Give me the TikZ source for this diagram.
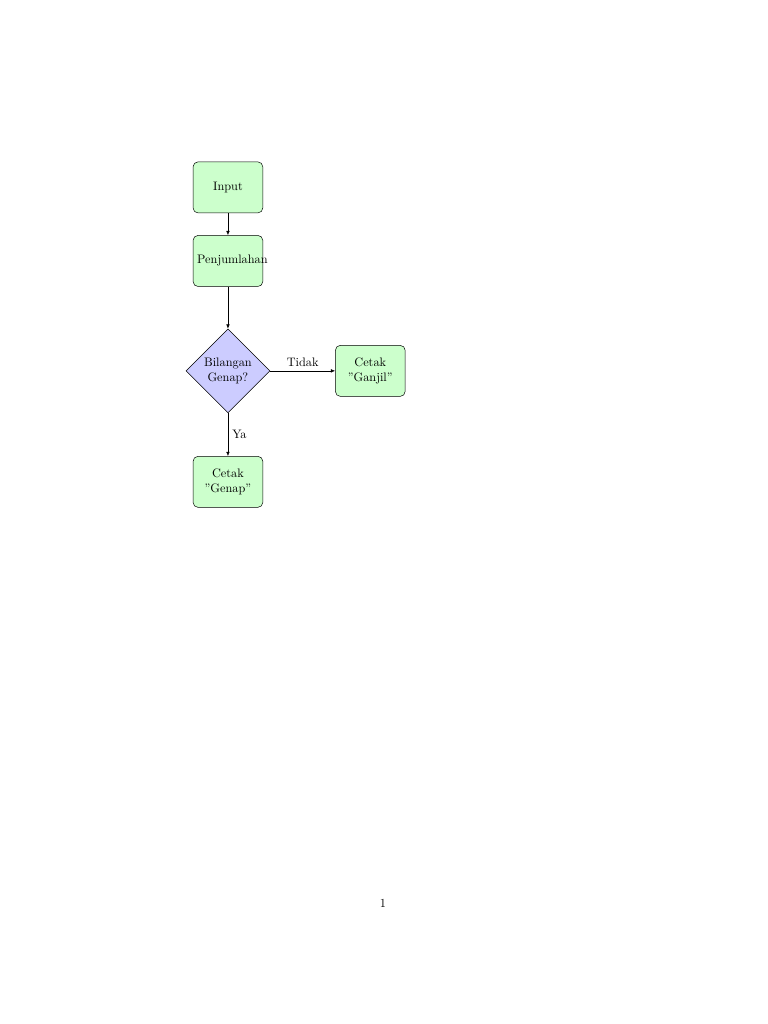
\documentclass[tikz,border=0pt]{standalone}
\usetikzlibrary{arrows.meta, shapes.geometric, positioning}

\begin{document}
\begin{tikzpicture}[
	node distance=1.2cm,
	process/.style={
		rectangle, draw, rounded corners, fill=green!20,
		text width=1.76cm, minimum height=1.46cm, align=center
	},
	decision/.style={
		diamond, draw, fill=blue!20, aspect=1, inner sep=0pt,
		minimum width=2.4cm, minimum height=2.4cm, align=center
	},
	arrow/.style={-{Latex[length=1.2mm, width=1mm]}}
	]
	
	% Page
	\useasboundingbox (0,0) rectangle (21.96,-29.29);
	
	% Nodes
	\node[process] (input) at (6.52,-5.36) {Input};
	\node[process, below=0.63cm of input] (sum) {Penjumlahan};
	\node[decision, below=of sum] (even) {Bilangan\\Genap?};
	\node[process, right=1.86cm of even] (odd) {Cetak\\''Ganjil''};
	\node[process, below=1.23cm of even] (printeven) {Cetak\\''Genap''};
	\node (page) at (10.95,-25.85) {1};
	
	% Arrows with labels
	\draw[arrow] (input) -- (sum);
	\draw[arrow] (sum) -- (even);
	\draw[arrow] (even) -- node[above] {Tidak} (odd);
	\draw[arrow] (even) -- node[right] {Ya} (printeven);
	
\end{tikzpicture}
\end{document}
